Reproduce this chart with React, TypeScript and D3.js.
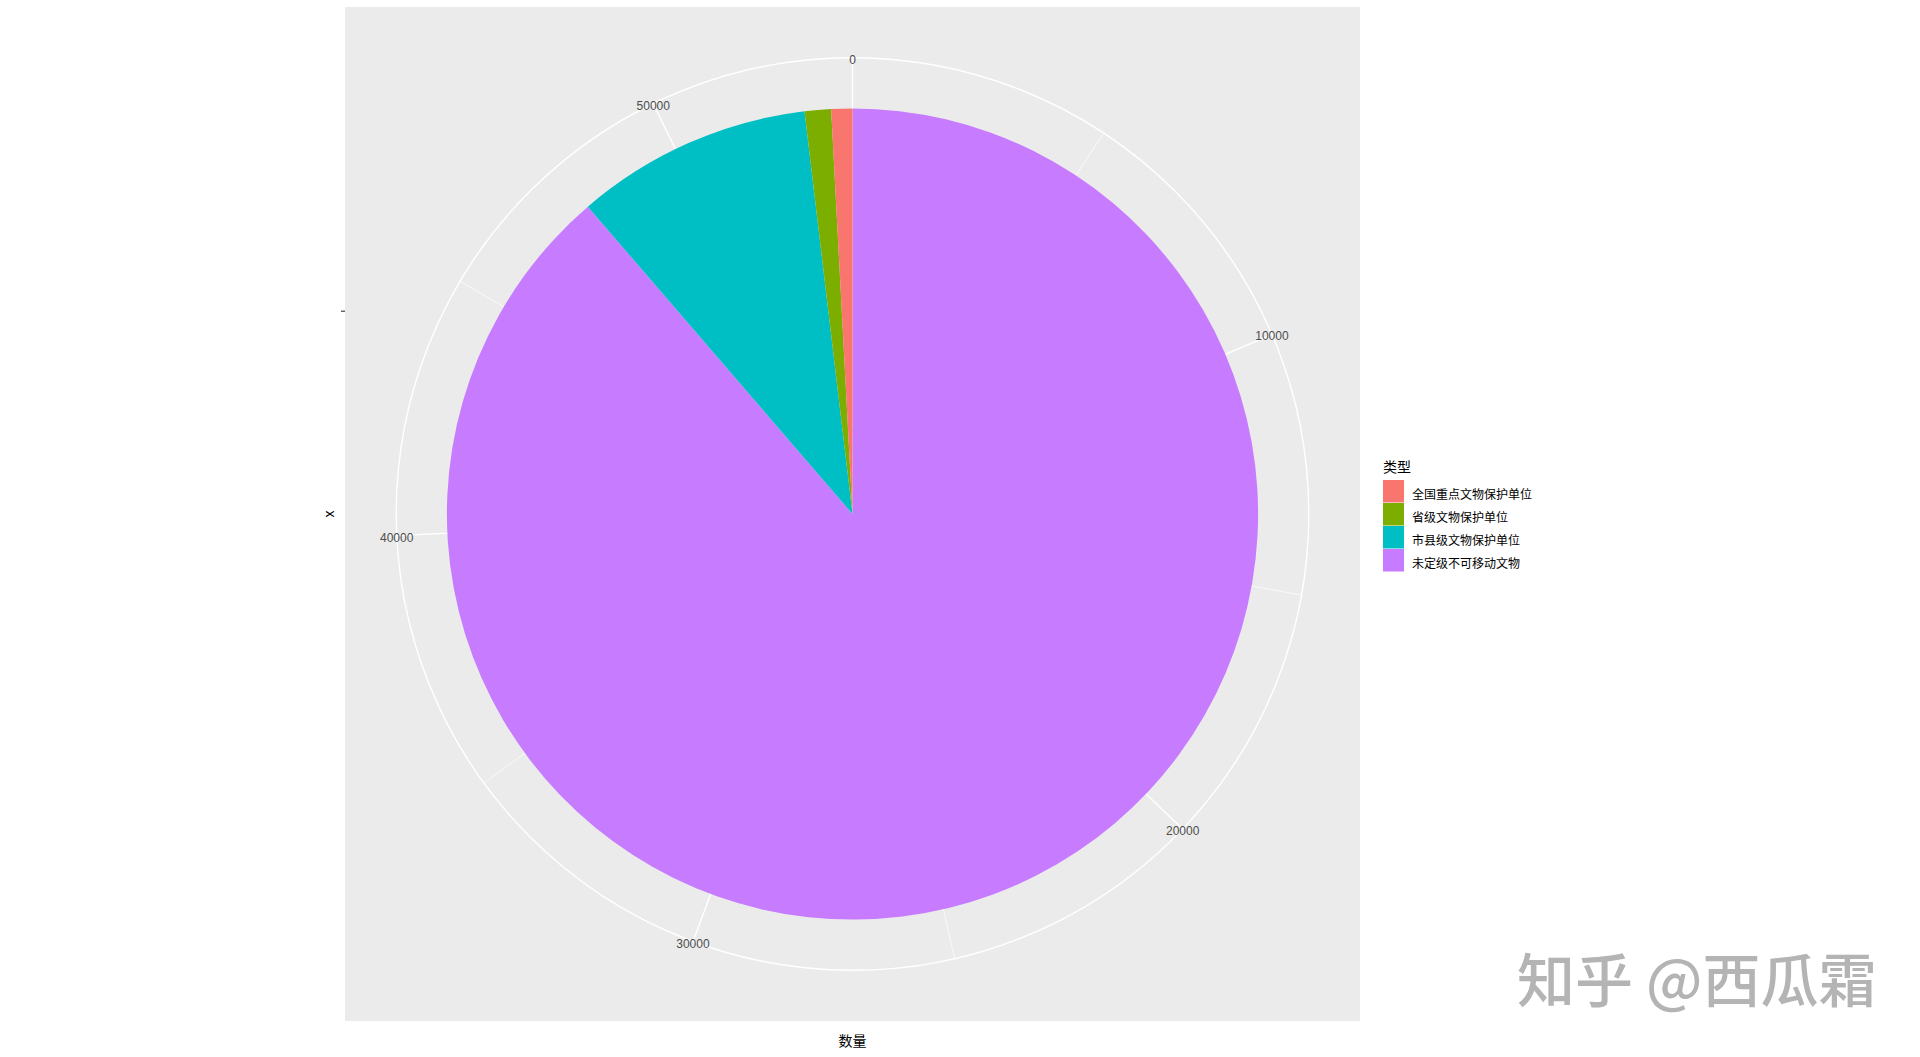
import React, { useEffect, useRef } from 'react';
import * as d3 from 'd3';

// data
const categories = ['全国重点文物保护单位', '省级文物保护单位', '市县级文物保护单位', '未定级不可移动文物'];
const counts = [452, 565, 5080, 47778];
const colors = ['#F8766D', '#7CAE00', '#00BFC4', '#C77CFF'];
const legendTitle = '类型';
const xTitle = '数量';
const yTitle = 'x';
const watermark = '知乎 @西瓜霜';

const App: React.FC = () => {
  const ref = useRef<SVGSVGElement>(null);

  useEffect(() => {
    if (!ref.current) return;
    const svg = d3.select(ref.current);
    svg.selectAll('*').remove();

    const panel = { left: 345, top: 7, width: 1015, height: 1014 };
    const cx = panel.left + panel.width / 2;
    const cy = panel.top + panel.height / 2;
    const size = Math.min(panel.width, panel.height);
    const rPie = 0.4 * size;
    const rOuter = 0.45 * size;
    const rMajor = 0.2 * size;

    const total = d3.sum(counts);
    const theta = d3.scaleLinear().domain([0, total]).range([0, 2 * Math.PI]);
    const majors = d3.ticks(0, total, 5);
    const minors = d3.range(5000, total, 10000);
    const pt = (a: number, r: number) => [cx + r * Math.sin(a), cy - r * Math.cos(a)];

    // panel background
    svg.append('rect')
      .attr('x', panel.left).attr('y', panel.top)
      .attr('width', panel.width).attr('height', panel.height)
      .attr('fill', '#EBEBEB');

    const g = svg.append('g');

    // minor theta grid
    minors.forEach(v => {
      const [x, y] = pt(theta(v), rOuter);
      g.append('line').attr('x1', cx).attr('y1', cy).attr('x2', x).attr('y2', y)
        .attr('stroke', '#fff').attr('stroke-width', 0.7);
    });
    // major theta grid
    majors.forEach(v => {
      const [x, y] = pt(theta(v), rOuter);
      g.append('line').attr('x1', cx).attr('y1', cy).attr('x2', x).attr('y2', y)
        .attr('stroke', '#fff').attr('stroke-width', 1.4);
    });
    // r circles
    [rMajor, rOuter].forEach(r => {
      g.append('circle').attr('cx', cx).attr('cy', cy).attr('r', r)
        .attr('fill', 'none').attr('stroke', '#fff').attr('stroke-width', 1.4);
    });

    // pie, stacked so that the last level starts at 0
    const rows = categories.map((c, i) => ({ c, v: counts[i], col: colors[i] })).reverse();
    const pie = d3.pie<{ c: string; v: number; col: string }>().sort(null).value(d => d.v);
    const arc = d3.arc<d3.PieArcDatum<{ c: string; v: number; col: string }>>()
      .innerRadius(0).outerRadius(rPie);

    g.append('g').attr('transform', `translate(${cx},${cy})`)
      .selectAll('path')
      .data(pie(rows))
      .enter()
      .append('path')
      .attr('d', arc)
      .attr('fill', d => d.data.col);

    // theta labels
    majors.forEach(v => {
      const [x, y] = pt(theta(v), rOuter);
      svg.append('text').attr('x', x).attr('y', y + 2)
        .attr('text-anchor', 'middle').attr('dominant-baseline', 'central')
        .attr('font-family', 'Liberation Sans, Arial, sans-serif').attr('font-size', 12)
        .attr('fill', '#4D4D4D')
        .text(String(v));
    });

    // r axis tick (empty label)
    svg.append('line')
      .attr('x1', panel.left - 4).attr('x2', panel.left)
      .attr('y1', cy - rMajor).attr('y2', cy - rMajor)
      .attr('stroke', '#333').attr('stroke-width', 1.1);

    // axis titles
    svg.append('text')
      .attr('x', cx).attr('y', 1046)
      .attr('text-anchor', 'middle')
      .attr('font-family', 'Noto Sans CJK SC, sans-serif').attr('font-size', 14)
      .attr('fill', '#000')
      .text(xTitle);

    svg.append('text')
      .attr('transform', `translate(334,${cy}) rotate(-90)`)
      .attr('text-anchor', 'middle')
      .attr('font-family', 'Liberation Sans, Arial, sans-serif').attr('font-size', 14)
      .attr('fill', '#000')
      .text(yTitle);

    // legend
    const lg = svg.append('g').attr('transform', 'translate(1383,480)');
    lg.append('text')
      .attr('x', 0).attr('y', -8)
      .attr('font-family', 'Noto Sans CJK SC, sans-serif').attr('font-size', 14)
      .attr('fill', '#000')
      .text(legendTitle);

    categories.forEach((c, i) => {
      lg.append('rect')
        .attr('x', 0).attr('y', i * 23)
        .attr('width', 21).attr('height', 22.5)
        .attr('fill', colors[i]);
      lg.append('text')
        .attr('x', 29).attr('y', i * 23 + 13)
        .attr('dominant-baseline', 'central')
        .attr('font-family', 'Noto Sans CJK SC, sans-serif').attr('font-size', 12)
        .attr('fill', '#000')
        .text(c);
    });

    // watermark
    svg.append('text')
      .attr('x', 1517).attr('y', 1002)
      .attr('font-family', 'Noto Sans CJK SC, sans-serif').attr('font-size', 58)
      .attr('font-weight', 500)
      .attr('fill', '#B4B4B4')
      .text(watermark);
  }, []);

  return (
    <svg
      ref={ref}
      width={1920}
      height={1057}
      style={{ position: 'absolute', left: 0, top: 0, background: '#fff' }}
    />
  );
};

export default App;
